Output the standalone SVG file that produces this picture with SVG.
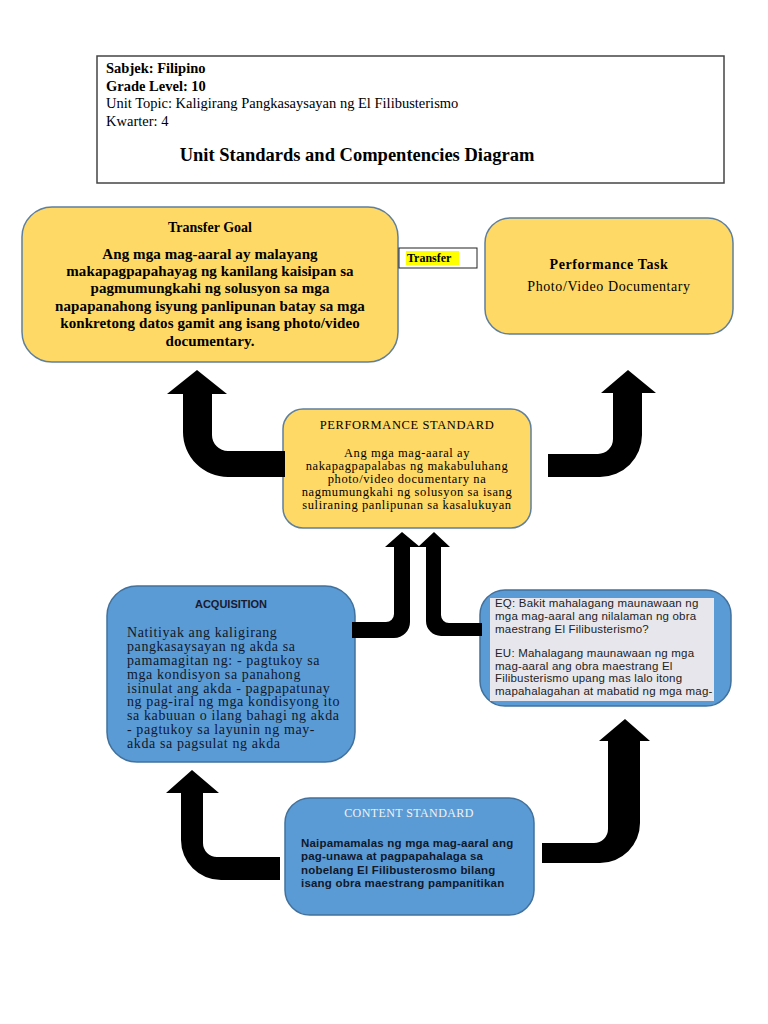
<svg xmlns="http://www.w3.org/2000/svg" width="768" height="1024" viewBox="0 0 768 1024">
<style>
.serif{font-family:"Liberation Serif","Times New Roman",serif;fill:#000}
.sans{font-family:"Liberation Sans",Arial,sans-serif}
.yel{fill:#FFD966;stroke:#5E7F9E;stroke-width:1.5}
.blu{fill:#5B9BD5;stroke:#41719C;stroke-width:1.5}
.arrow{fill:#000}
.c{text-anchor:middle}
</style>
<rect width="768" height="1024" fill="#fff"/>
<g id="header">
<rect x="97" y="56" width="627" height="127" fill="#fff" stroke="#444" stroke-width="1.5"/>
<text class="serif" font-size="14.5" font-weight="bold" x="106" y="73">Sabjek: Filipino</text>
<text class="serif" font-size="14.5" font-weight="bold" x="106" y="91">Grade Level: 10</text>
<text class="serif" font-size="14.5" x="106" y="108">Unit Topic: Kaligirang Pangkasaysayan ng El Filibusterismo</text>
<text class="serif" font-size="14.5" x="106" y="126">Kwarter: 4</text>
<text class="serif c" font-size="18.5" font-weight="bold" x="357" y="161">Unit Standards and Compentencies Diagram</text>
</g>
<g id="transfer-goal">
<rect class="yel" x="22" y="207" width="376" height="155" rx="30"/>
<text class="serif c" font-size="14" font-weight="bold" x="210" y="232">Transfer Goal</text>
<g class="serif c" font-size="15" font-weight="bold" letter-spacing="0.1">
<text x="210" y="259">Ang mga mag-aaral ay malayang</text>
<text x="210" y="276">makapagpapahayag ng kanilang kaisipan sa</text>
<text x="210" y="293">pagmumungkahi ng solusyon sa mga</text>
<text x="210" y="311">napapanahong isyung panlipunan batay sa mga</text>
<text x="210" y="328">konkretong datos gamit ang isang photo/video</text>
<text x="210" y="346">documentary.</text>
</g>
</g>
<g id="transfer-label">
<rect x="399" y="248" width="78" height="20" fill="#fff" stroke="#222" stroke-width="1"/>
<rect x="406" y="251" width="53" height="14" fill="#FFFF00"/>
<text class="serif" font-size="12" font-weight="bold" x="407" y="262">Transfer</text>
</g>
<g id="performance-task">
<rect class="yel" x="485" y="218" width="248" height="116" rx="25"/>
<text class="serif c" font-size="14" font-weight="bold" letter-spacing="0.6" x="609" y="269">Performance Task</text>
<text class="serif c" font-size="14" letter-spacing="0.6" x="609" y="291">Photo/Video Documentary</text>
</g>
<g id="performance-standard">
<rect class="yel" x="283" y="409" width="248" height="119" rx="20"/>
<g class="serif c" font-size="12.5" letter-spacing="0.6">
<text x="407" y="429">PERFORMANCE STANDARD</text>
<text x="407" y="457">Ang mga mag-aaral ay</text>
<text x="407" y="470">nakapagpapalabas ng makabuluhang</text>
<text x="407" y="483">photo/video documentary na</text>
<text x="407" y="496">nagmumungkahi ng solusyon sa isang</text>
<text x="407" y="509">suliraning panlipunan sa kasalukuyan</text>
</g>
</g>
<g id="acquisition">
<rect class="blu" x="107" y="586" width="248" height="176" rx="30"/>
<text class="sans c" font-size="11" font-weight="bold" fill="#1a1a2e" x="231" y="608">ACQUISITION</text>
<g class="serif" font-size="14" letter-spacing="0.6" style="fill:#10182a">
<text x="127" y="637">Natitiyak ang kaligirang</text>
<text x="127" y="651">pangkasaysayan ng akda sa</text>
<text x="127" y="665">pamamagitan ng:  - pagtukoy sa</text>
<text x="127" y="679">mga kondisyon sa panahong</text>
<text x="127" y="693">isinulat ang akda  - pagpapatunay</text>
<text x="127" y="706">ng pag-iral ng mga kondisyong ito</text>
<text x="127" y="720">sa kabuuan o ilang bahagi ng akda</text>
<text x="127" y="734">- pagtukoy sa layunin ng may-</text>
<text x="127" y="748">akda sa pagsulat ng akda</text>
</g>
</g>
<g id="eq-eu">
<rect class="blu" x="480" y="590" width="251" height="116" rx="25"/>
<rect x="490" y="598" width="224" height="103" fill="#E7E6EC"/>
<g class="sans" font-size="11.5" letter-spacing="0.2" fill="#222">
<text x="495" y="607">EQ: Bakit mahalagang maunawaan ng</text>
<text x="495" y="620">mga mag-aaral ang nilalaman ng obra</text>
<text x="495" y="633">maestrang El Filibusterismo?</text>
<text x="495" y="657">EU: Mahalagang maunawaan ng mga</text>
<text x="495" y="670">mag-aaral ang obra maestrang El</text>
<text x="495" y="682">Filibusterismo upang mas lalo itong</text>
<text x="495" y="695">mapahalagahan at mabatid ng mga mag-</text>
</g>
</g>
<g id="content-standard">
<rect class="blu" x="285" y="798" width="249" height="117" rx="25"/>
<text class="serif c" font-size="12" letter-spacing="0.4" x="409" y="817" style="fill:#f2f2f2">CONTENT STANDARD</text>
<g class="sans" font-size="11.5" font-weight="bold" letter-spacing="0.2" fill="#10182a">
<text x="301" y="847">Naipamamalas ng mga mag-aaral ang</text>
<text x="301" y="860">pag-unawa at pagpapahalaga sa</text>
<text x="301" y="874">nobelang El Filibusterosmo bilang</text>
<text x="301" y="887">isang obra maestrang pampanitikan</text>
</g>
</g>
<g id="connectors">
<path class="arrow" d="M197,370 L227,394 L212,394 L212,435 A16,16 0 0 0 228,451 L285,451 L285,477 L228,477 A45,45 0 0 1 183,432 L183,394 L167,394 Z"/>
<path class="arrow" d="M628,370 L656,393 L642,393 L642,435 A42,42 0 0 1 600,477 L548,477 L548,454 L598,454 A15,15 0 0 0 613,439 L613,393 L601,393 Z"/>
<path class="arrow" d="M402,532 L420,547 L410,547 L410,622 A16,16 0 0 1 394,638 L352,638 L352,622 L386,622 A8,8 0 0 0 394,614 L394,547 L385,547 Z"/>
<path class="arrow" d="M434,532 L450,547 L441,547 L441,615 A8,8 0 0 0 449,623 L482,623 L482,636 L441,636 A15,15 0 0 1 426,621 L426,547 L418,547 Z"/>
<path class="arrow" d="M192,770 L219,793 L203,793 L203,843 A14,14 0 0 0 217,857 L280,857 L280,880 L221,880 A40,40 0 0 1 181,840 L181,793 L166,793 Z"/>
<path class="arrow" d="M625,719 L650,741 L640,741 L640,823 A40,40 0 0 1 600,863 L542,863 L542,843 L594,843 A14,14 0 0 0 608,829 L608,741 L599,741 Z"/>
</g>
</svg>
